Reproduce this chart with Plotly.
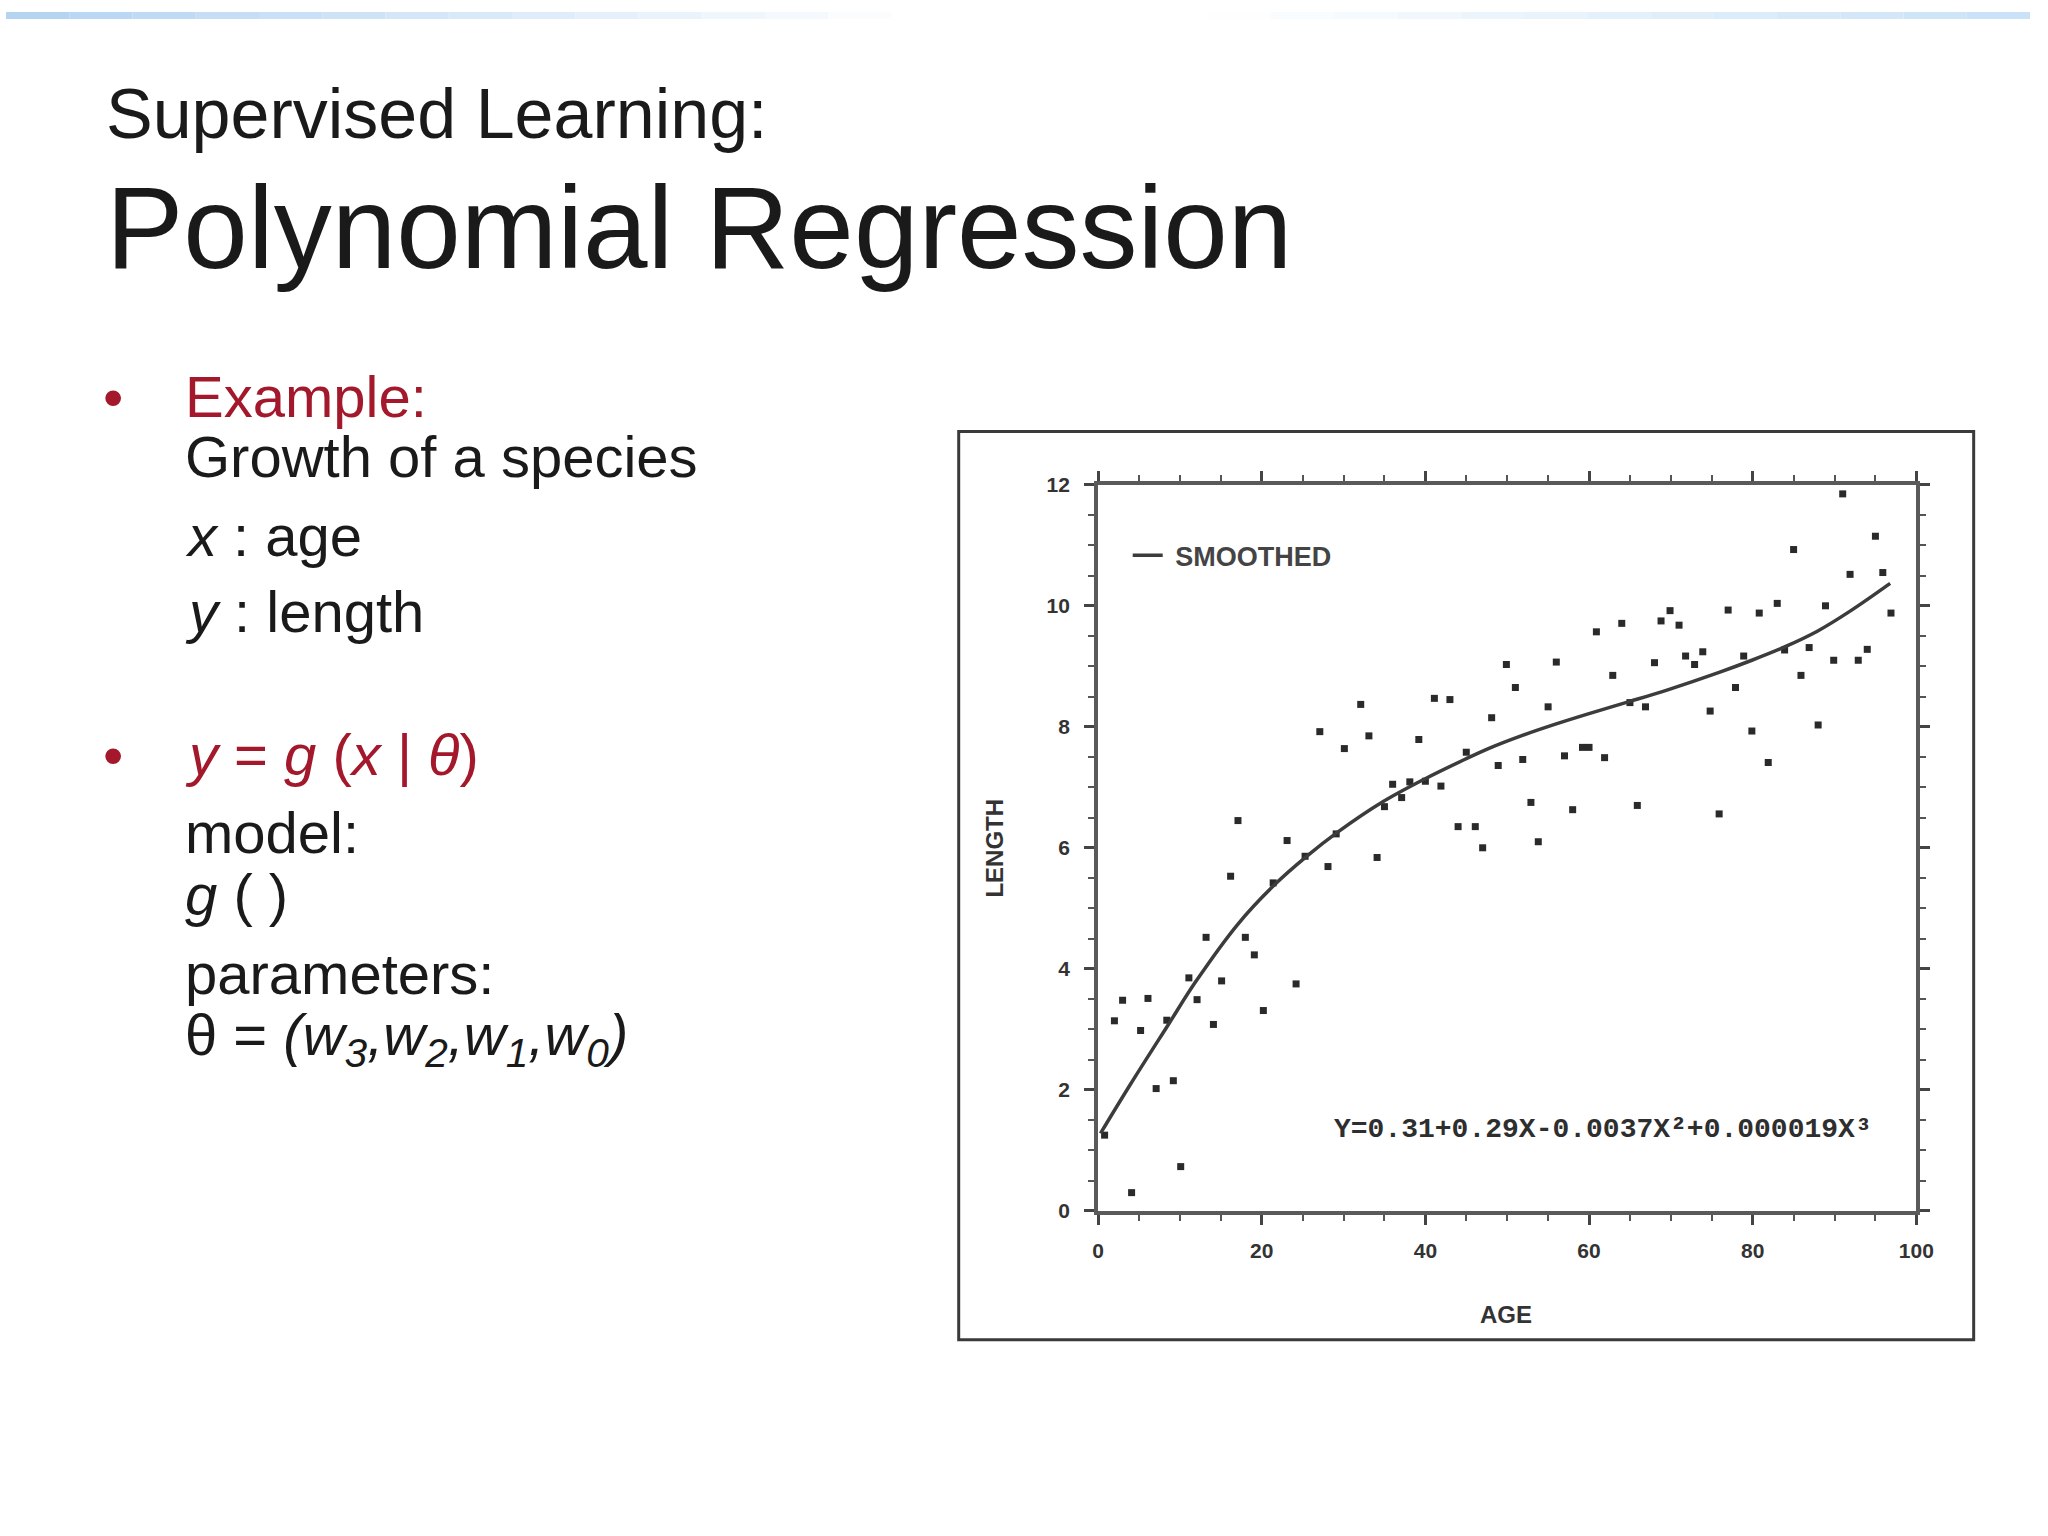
import plotly.graph_objects as go

W, H = 2048, 1536

# Growth of a species: age vs length
age = [0.8, 2.0, 3.0, 4.1, 5.2, 6.1, 7.1, 8.4, 9.2, 10.1, 11.1, 12.1, 13.2, 14.1, 15.1,
       16.2, 17.1, 18.0, 19.1, 20.2, 21.4, 23.1, 24.2, 25.3, 27.1, 28.1, 29.1, 30.1,
       32.1, 33.1, 34.1, 35.0, 36.0, 37.1, 38.1, 39.2, 40.0, 41.1, 41.9, 43.0, 44.0,
       45.0, 46.1, 47.0, 48.1, 48.9, 49.9, 51.0, 51.9, 52.9, 53.8, 55.0, 56.0, 57.0,
       58.0, 59.2, 60.0, 60.9, 61.9, 62.9, 64.0, 65.0, 65.9, 66.9, 68.0, 68.8, 69.9,
       71.0, 71.8, 72.9, 73.9, 74.8, 75.9, 77.0, 77.9, 78.9, 79.9, 80.8, 81.9, 83.0,
       83.9, 85.0, 85.9, 86.9, 88.0, 88.9, 89.9, 91.0, 91.9, 92.9, 94.0, 95.0, 95.9,
       96.9]
length = [1.25, 3.14, 3.48, 0.30, 2.98, 3.51, 2.02, 3.15, 2.15, 0.73, 3.85, 3.49, 4.52,
          3.08, 3.80, 5.53, 6.45, 4.52, 4.23, 3.31, 5.42, 6.12, 3.75, 5.86, 7.92, 5.69,
          6.23, 7.64, 8.37, 7.85, 5.84, 6.68, 7.05, 6.83, 7.09, 7.79, 7.10, 8.47, 7.02,
          8.45, 6.35, 7.58, 6.35, 6.00, 8.15, 7.36, 9.03, 8.65, 7.46, 6.75, 6.10, 8.33,
          9.07, 7.52, 6.63, 7.66, 7.66, 9.57, 7.49, 8.85, 9.71, 8.40, 6.70, 8.33, 9.06,
          9.75, 9.92, 9.68, 9.17, 9.03, 9.24, 8.26, 6.56, 9.93, 8.65, 9.17, 7.93, 9.88,
          7.41, 10.04, 9.27, 10.93, 8.85, 9.31, 8.03, 10.00, 9.10, 11.85, 10.52, 9.10,
          9.28, 11.15, 10.55, 9.88]

# smoothed curve
smooth_age = [0.3, 4.0, 8.6, 11.9, 17.1, 21.5, 25.6, 29.2, 34.8, 40.1, 44.8, 47.7, 51.7,
              55.8, 59.8, 65.0, 69.8, 75.9, 79.9, 83.9, 87.9, 92.0, 96.8]
smooth_length = [1.28, 2.10, 3.08, 3.78, 4.74, 5.38, 5.87, 6.25, 6.76, 7.15, 7.46, 7.64,
                 7.85, 8.04, 8.21, 8.42, 8.62, 8.90, 9.10, 9.32, 9.58, 9.92, 10.37]

x_ticks = [0, 20, 40, 60, 80, 100]
y_ticks = [0, 2, 4, 6, 8, 10, 12]

RED = "#a3192b"
TXT = "#1a1a1a"
SANS = "Liberation Sans"


# page pixels -> paper coordinates
def px(x):
    return x / W


def py(y):
    return 1 - y / H


fig = go.Figure()

fig.add_trace(go.Scatter(
    x=age, y=length, mode="markers",
    marker=dict(symbol="square", size=7, color="#2a2a2a"),
    showlegend=False, cliponaxis=False, hoverinfo="x+y",
))
fig.add_trace(go.Scatter(
    x=smooth_age, y=smooth_length, mode="lines", name="\u00a0SMOOTHED",
    line=dict(color="#3c3c3c", width=3.5, shape="spline", smoothing=1.0),
))

tick_font = dict(family=SANS, size=21, color="#333333", weight="bold")
axis_common = dict(
    ticks="outside", ticklen=10, tickwidth=2.5, tickcolor="#444444",
    showline=True, linewidth=4, linecolor="#5a5a5a", mirror="ticks",
    showgrid=False, zeroline=False, tickfont=tick_font,
)

fig.update_layout(
    width=W, height=H,
    margin=dict(l=0, r=0, t=0, b=0),
    paper_bgcolor="white", plot_bgcolor="white",
    xaxis=dict(domain=[px(1105), px(1933)], range=[0, 100], tickvals=x_ticks,
               minor=dict(tick0=0, dtick=5, ticks="outside", ticklen=6, tickwidth=2,
                          tickcolor="#555555", showgrid=False),
               ticklabelstandoff=8, **axis_common),
    yaxis=dict(domain=[py(1217), py(480)], range=[0, 12], tickvals=y_ticks,
               minor=dict(tick0=0, dtick=0.5, ticks="outside", ticklen=6, tickwidth=2,
                          tickcolor="#555555", showgrid=False),
               ticklabelstandoff=10, **axis_common),
    legend=dict(x=px(1135), y=py(527), xanchor="left", yanchor="top",
                bgcolor="rgba(0,0,0,0)", itemwidth=30,
                font=dict(family=SANS, size=27, color="#444444", weight="bold")),
    showlegend=True,
)

# outer frame around the scanned figure
fig.add_shape(type="rect", xref="paper", yref="paper",
              x0=px(964), x1=px(1991), y0=py(1348), y1=py(426),
              line=dict(color="#3a3a3a", width=3), fillcolor="rgba(0,0,0,0)", layer="below")

# light blue band along the top edge of the slide
left_c, right_c = (178, 210, 242), (200, 225, 247)
n = 32
for i in range(n):
    t = (i + 0.5) / n
    if t < 0.45:
        k = t / 0.45
        c = [round(a + (255 - a) * k) for a in left_c]
    elif t < 0.6:
        c = [255, 255, 255]
    else:
        k = (t - 0.6) / 0.4
        c = [round(255 + (b - 255) * k) for b in right_c]
    fig.add_shape(type="rect", xref="paper", yref="paper",
                  x0=i / n, x1=(i + 1) / n, y0=py(7), y1=1,
                  line=dict(width=0), fillcolor=f"rgb({c[0]},{c[1]},{c[2]})", layer="below")


def label(x, y, text, size, color=TXT, family=SANS, xanchor="left", **kw):
    fig.add_annotation(x=px(x), y=py(y), xref="paper", yref="paper", text=text,
                       showarrow=False, xanchor=xanchor, yanchor="middle",
                       font=dict(family=family, size=size, color=color, **kw))


# slide titles
label(99, 104, "Supervised Learning:", 70)
label(99, 219, "Polynomial Regression", 116)

# bullet list
B = 58
label(96, 390, "•", B, color=RED)
label(179, 390, "Example:", B, color=RED)
label(179, 451, "Growth of a species", B)
label(179, 531, "<i>x</i> : age", B)
label(179, 609, "<i>y</i> : length", B)
label(96, 754, "•", B, color=RED)
label(179, 754, "<i>y</i> = <i>g</i> (<i>x</i> | <i>θ</i>)", B, color=RED)
label(179, 833, "model:", B)
label(179, 896, "<i>g</i> ( )", B)
label(179, 976, "parameters:", B)
label(179, 1043, "θ = <i>(w<sub>3</sub>,w<sub>2</sub>,w<sub>1</sub>,w<sub>0</sub>)</i>", B)

# figure texts
label(1518, 1322, "AGE", 24, color="#333333", xanchor="center", weight="bold")
fig.add_annotation(x=px(1000), y=py(849), xref="paper", yref="paper", text="LENGTH",
                   showarrow=False, textangle=-90, xanchor="center", yanchor="middle",
                   font=dict(family=SANS, size=24, color="#333333", weight="bold"))
label(1616, 1134, "Y=0.31+0.29X-0.0037X²+0.000019X³", 28, color="#2e2e2e",
      family="Liberation Mono", xanchor="center", weight="bold")

fig.write_html("out.html", config={"displayModeBar": False},
               post_script="document.body.style.margin='0';document.body.style.overflow='hidden';")
